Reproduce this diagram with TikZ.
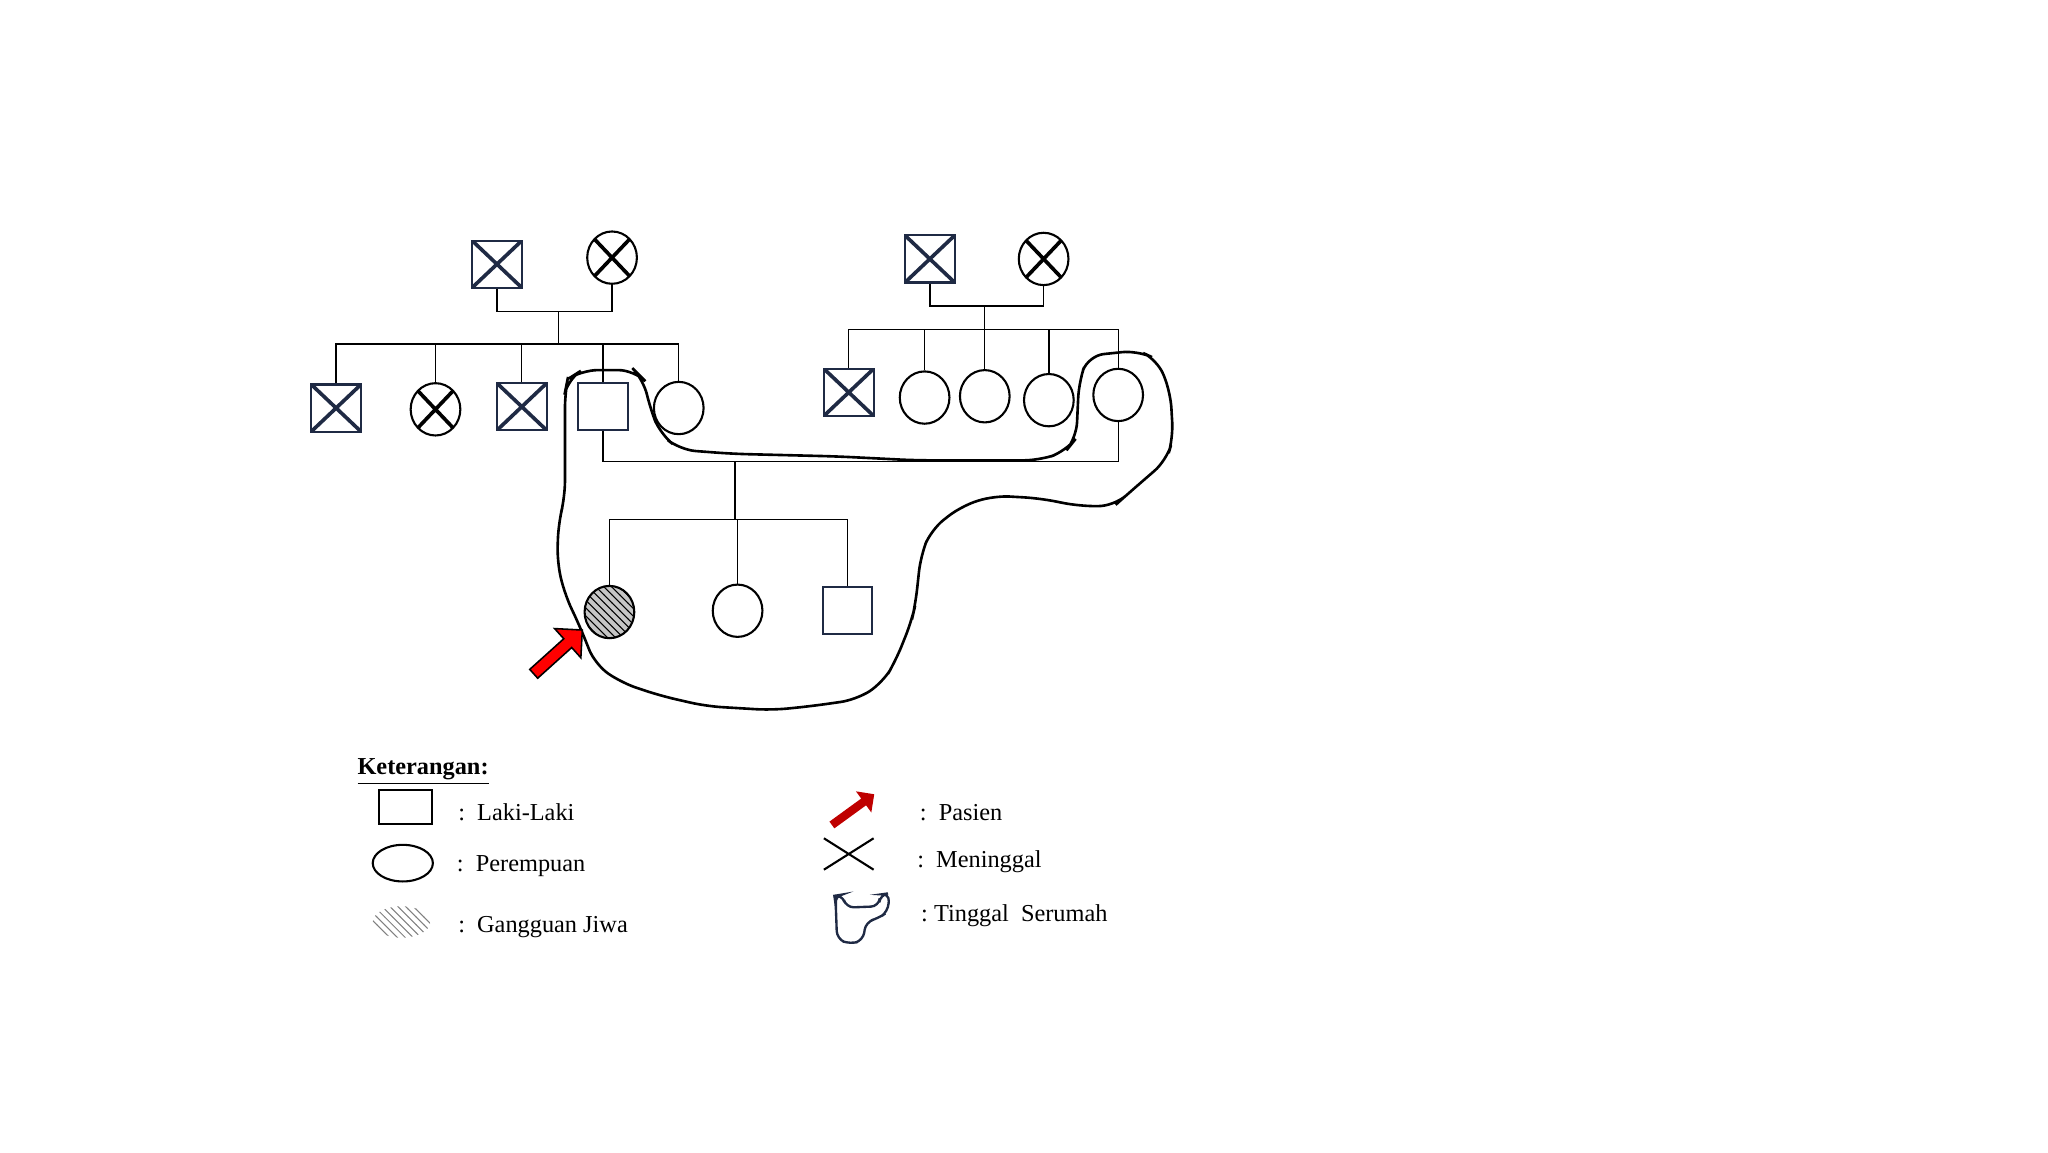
\documentclass[tikz,border=0pt]{standalone}
\usepackage{fontspec}
\setmainfont{Liberation Serif}
\usetikzlibrary{shapes.geometric,shapes.arrows,patterns}
\definecolor{navy}{HTML}{1F2A44}
\begin{document}
\begin{tikzpicture}[x=0.5pt,y=-0.5pt,
  male/.style={draw=navy,line width=0.8pt,minimum width=19pt,minimum height=18pt,inner sep=0pt},
  fem/.style={draw,ellipse,line width=0.8pt,minimum width=19pt,minimum height=20pt,inner sep=0pt},
  dead/.style={path picture={\draw[line width=1.4pt] (path picture bounding box.north west)--(path picture bounding box.south east) (path picture bounding box.north east)--(path picture bounding box.south west);}},
  ln/.style={line width=0.5pt},
  lbl/.style={anchor=west,font=\fontsize{9.3}{11}\selectfont,inner sep=0pt}]
\useasboundingbox (0,0) rectangle (1566,881);
% household outline
\draw[line width=1pt,rounded corners=6pt]
 (432,300) -- (434,290) -- (445,283) -- (485,283) -- (492,290) -- (497,312) -- (505,332) -- (520,344) -- (560,347) -- (640,349) -- (700,352) -- (795,352) -- (815,345) -- (823,335) -- (825,292) -- (832,272) -- (870,268) -- (885,275) -- (895,300) -- (897,335) -- (892,352) -- (862,378) -- (852,387) -- (825,387) -- (795,381) -- (760,379) -- (735,387) -- (712,405) -- (704,425) -- (700,462) -- (697,475) -- (685,505) -- (675,522) -- (655,535) -- (620,540) -- (590,543) -- (540,540) -- (505,532) -- (475,522) -- (455,508) -- (443,478) -- (432,455) -- (426,430) -- (427,400) -- (432,380) -- cycle;
% generation I
\node[male,dead] (gf1) at (380,202) {};
\node[fem,dead] (gm1) at (468,197) {};
\node[male,dead] (gf2) at (711,198) {};
\node[fem,dead] (gm2) at (798,198) {};
% generation II left
\node[male,dead] (a1) at (257,312) {};
\node[fem,dead] (a2) at (333,313) {};
\node[male,dead] (a3) at (399,311) {};
\node[male] (fa) at (461,311) {};
\node[fem] (a5) at (519,312) {};
% generation II right
\node[male,dead] (b1) at (649,300) {};
\node[fem] (b2) at (707,304) {};
\node[fem] (b3) at (753,303) {};
\node[fem] (b4) at (802,306) {};
\node[fem] (mo) at (855,302) {};
% generation III
\node[fem,fill=gray!45,postaction={pattern=north west lines}] (pt) at (466,468) {};
\node[fem] (c2) at (564,467) {};
\node[male] (c3) at (648,467) {};
% connectors
\coordinate (m1) at (427,238);
\coordinate (s1) at (427,263);
\draw[ln] (gf1.south) |- (m1) -| (gm1.south);
\draw[ln] (m1) -- (s1);
\draw[ln] (a1.north) |- (s1) -| (a5.north);
\foreach \n in {a2,a3,fa} \draw[ln] (\n.north) -- (\n.north |- s1);
\coordinate (m2) at (753,234);
\coordinate (s2) at (753,252);
\draw[ln] (gf2.south) |- (m2) -| (gm2.south);
\draw[ln] (m2) -- (b3.north);
\draw[ln] (b1.north) |- (s2) -| (mo.north);
\foreach \n in {b2,b4} \draw[ln] (\n.north) -- (\n.north |- s2);
\coordinate (m3) at (562,353);
\coordinate (s3) at (562,397);
\draw[ln] (fa.south) |- (m3) -| (mo.south);
\draw[ln] (m3) -- (s3);
\draw[ln] (pt.north) |- (s3) -| (c3.north);
\draw[ln] (c2.north) -- (c2.north |- s3);
% proband arrow
\node[single arrow,draw,fill=red,line width=0.6pt,minimum height=25pt,minimum width=15pt,single arrow head extend=3pt,inner sep=1pt,rotate=42] (arr) at (425,500) {};
% legend
\node[anchor=west,inner sep=0pt,font=\bfseries\fontsize{9.3}{11}\selectfont] (ket) at (273,590) {\underline{Keterangan:}};
\node[draw,line width=0.8pt,minimum width=20pt,minimum height=13pt,inner sep=0pt] (lm) at (310,617) {};
\node[lbl] (tm) at (350,621) {:\ \ Laki-Laki};
\node[draw,ellipse,line width=0.8pt,minimum width=23pt,minimum height=14pt,inner sep=0pt] (lf) at (308,660) {};
\node[lbl] (tf) at (349,662) {:\ \ Perempuan};
\node[ellipse,minimum width=22pt,minimum height=12pt,inner sep=0pt,pattern=north west lines,pattern color=gray] (lh) at (307,705) {};
\node[lbl] (th) at (350,709) {:\ \ Gangguan Jiwa};
\node[single arrow,fill=red!75!black,minimum height=20pt,minimum width=10pt,single arrow head extend=1.5pt,inner sep=0.5pt,rotate=36] (la) at (651,620) {};
\node[lbl] (ta) at (703,621) {:\ \ Pasien};
\coordinate (x1) at (630,641); \coordinate (x2) at (668,665);
\draw[line width=0.8pt] (x1) -- (x2) (x1 |- x2) -- (x2 |- x1);
\node[lbl] (tx) at (701,659) {:\ \ Meninggal};
\draw[navy,line width=0.9pt,rounded corners=3pt] (638,685) -- (639,690) -- (640,718) -- (650,722) -- (660,719) -- (662,705) -- (672,702) -- (679,697) -- (680,683) -- (673,684) -- (672,693) -- (647,694) -- (644,684) -- cycle;
\node[lbl] (tt) at (704,700) {:\ Tinggal\ \ Serumah};
\end{tikzpicture}
\end{document}
